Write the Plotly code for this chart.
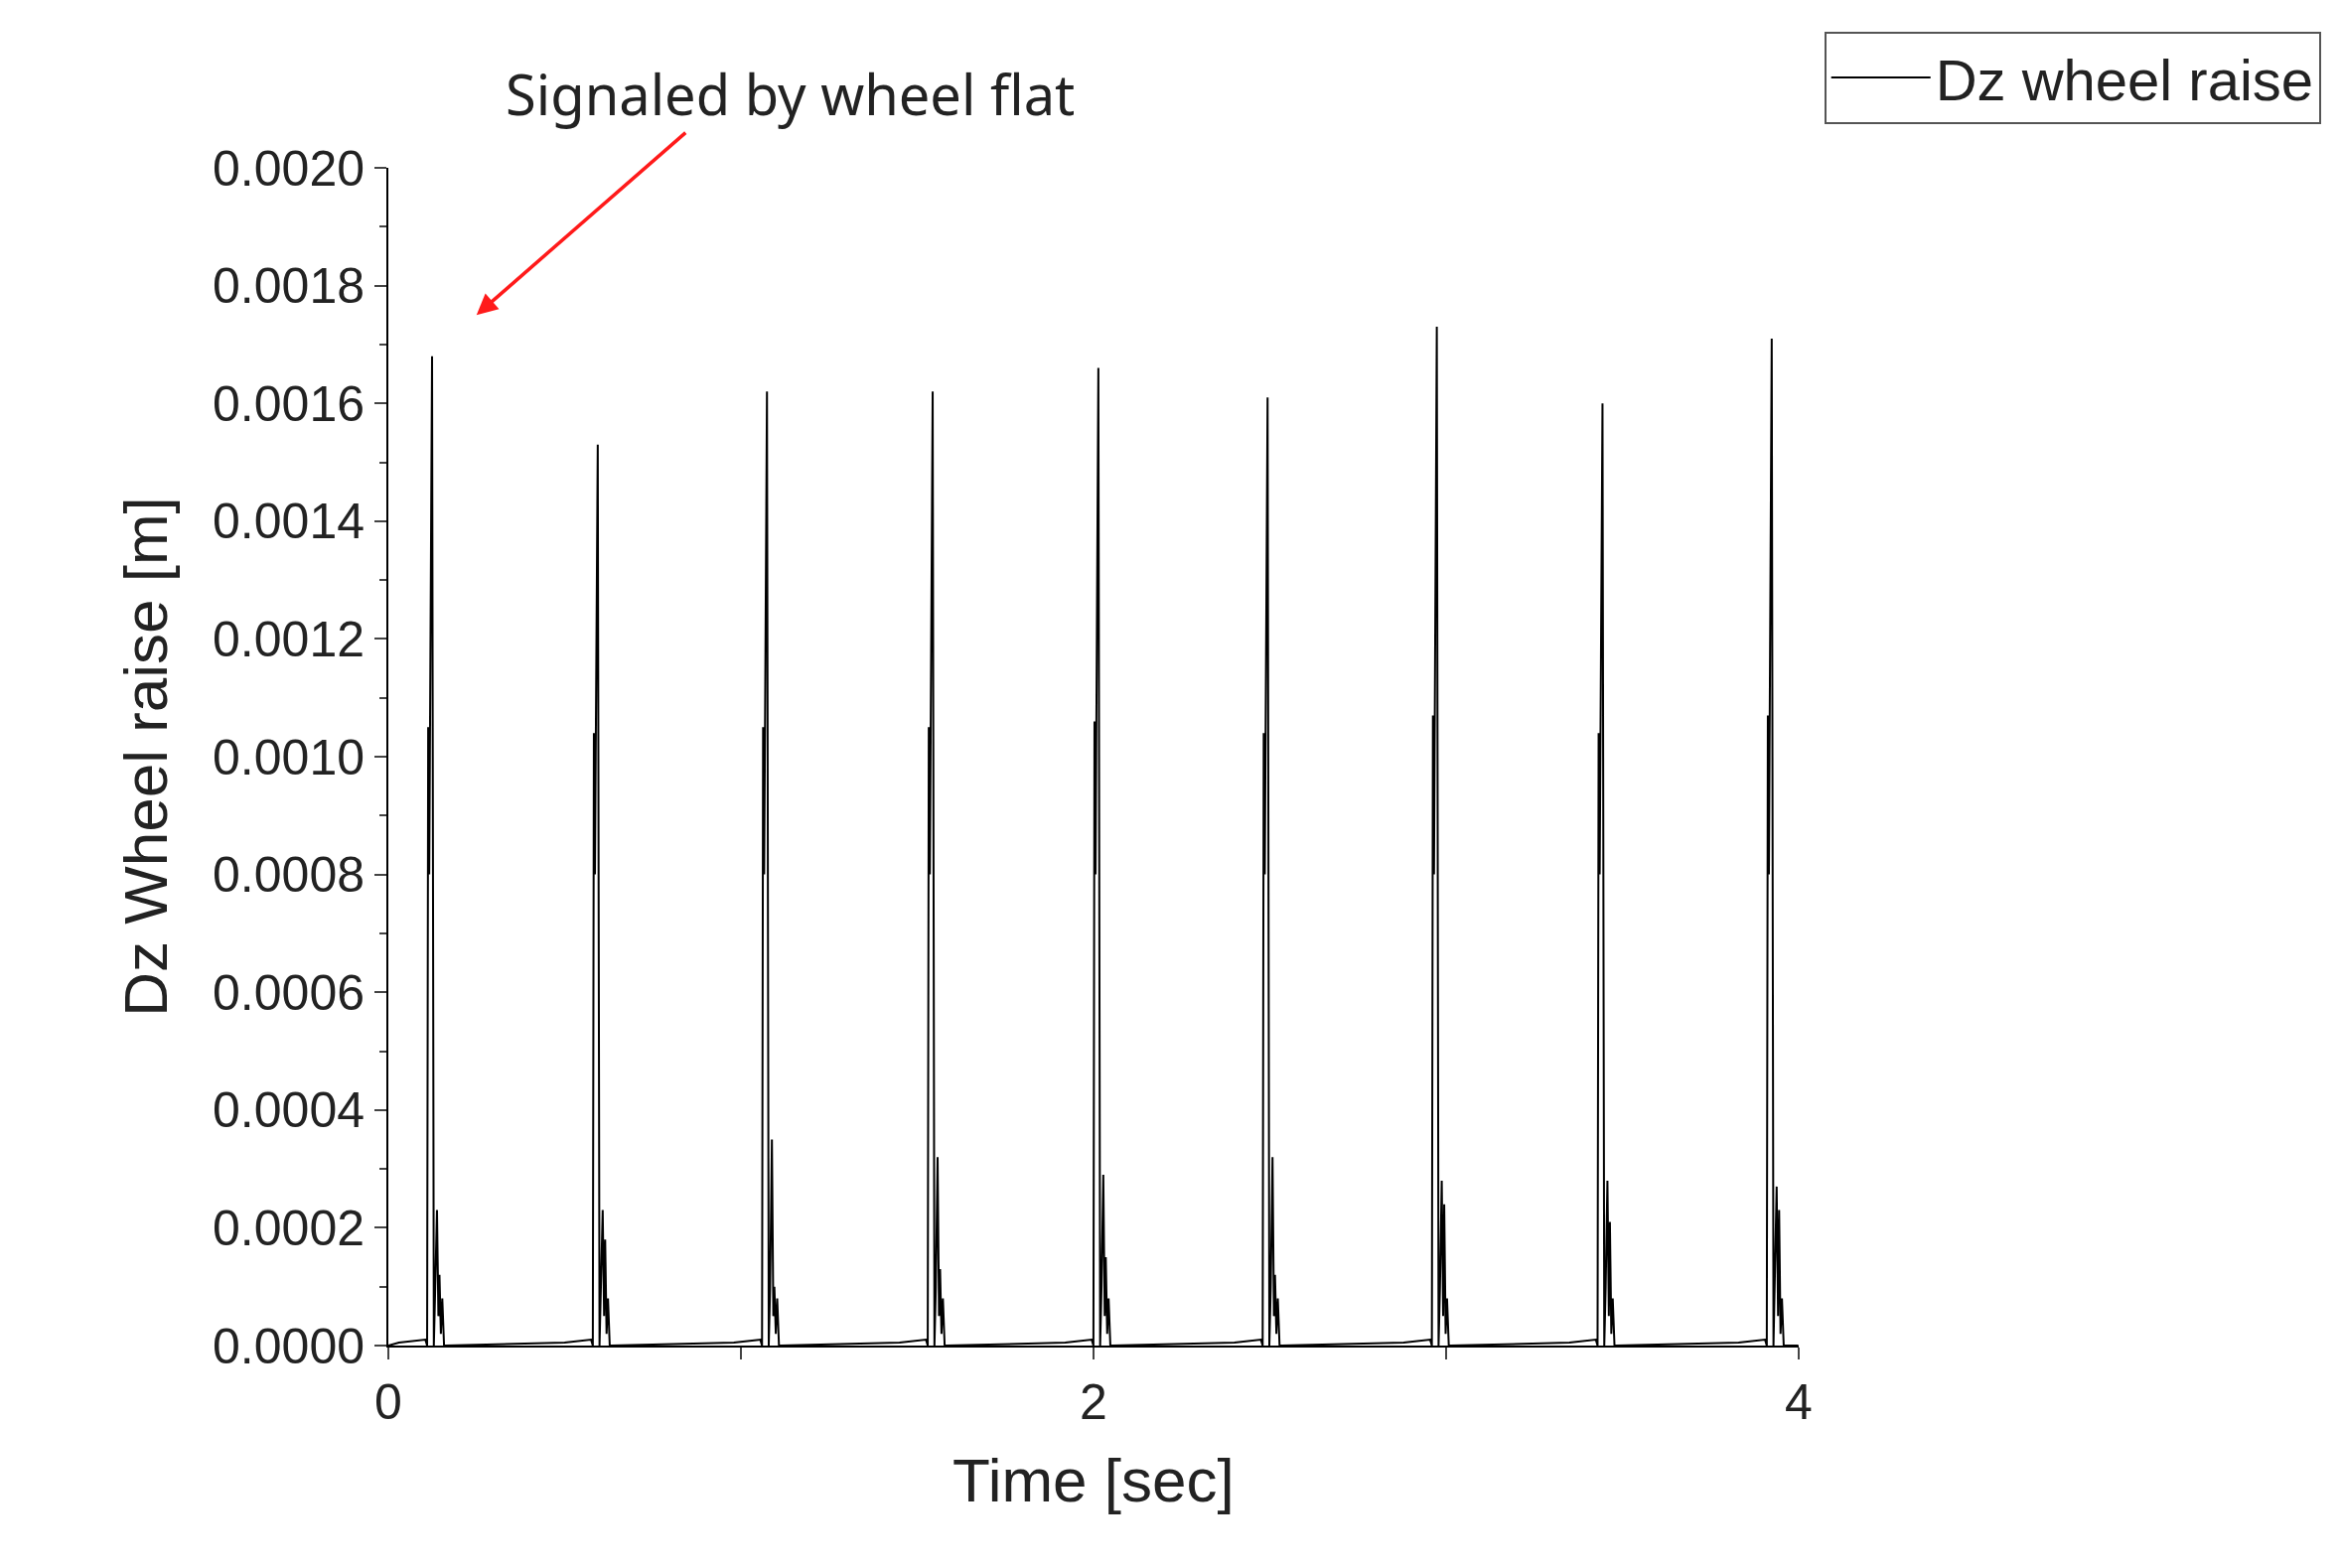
import plotly.graph_objects as go

# spike events
spike_times = [0.13, 0.60, 1.08, 1.55, 2.02, 2.50, 2.98, 3.45, 3.93]
peak_values = [0.00168, 0.00153, 0.00162, 0.00162, 0.00166, 0.00161, 0.00173, 0.00160, 0.00171]
shoulder_values = [0.00105, 0.00104, 0.00105, 0.00105, 0.00106, 0.00104, 0.00107, 0.00104, 0.00107]
second_values = [0.00023, 0.00023, 0.00035, 0.00032, 0.00029, 0.00032, 0.00028, 0.00028, 0.00027]
third_values = [0.00012, 0.00018, 0.00010, 0.00013, 0.00015, 0.00012, 0.00024, 0.00021, 0.00023]

xs, ys = [0.0], [0.0]
for t, p, s, a, b in zip(spike_times, peak_values, shoulder_values, second_values, third_values):
    xs += [t - 0.10, t - 0.025, t - 0.020, t - 0.017, t - 0.014, t - 0.006, t - 0.001, t + 0.003,
           t + 0.008, t + 0.012, t + 0.015, t + 0.019, t + 0.023, t + 0.028, t + 0.034]
    ys += [0.000005, 0.00001, 0.0, s, 0.0008, p, 0.0, 0.0001,
           a, 0.00005, b, 0.00002, 0.00008, 0.0, 0.0]
xs.append(4.0)
ys.append(0.0)

fig = go.Figure()
fig.add_trace(go.Scatter(x=xs, y=ys, mode="lines", name="Dz wheel raise",
                         line=dict(color="black", width=2)))

fig.add_annotation(x=0.25, y=0.00175, ax=212, ay=-185, xref="x", yref="y",
                   showarrow=True, arrowhead=2, arrowsize=1.2, arrowwidth=3.5,
                   arrowcolor="#ff1a1a", text="", standoff=0)
fig.add_annotation(x=0.285, y=1.063, xref="paper", yref="paper", showarrow=False,
                   text="Signaled by wheel flat", xanchor="center", yanchor="middle",
                   font=dict(family="Noto Sans", size=56, color="#222"))

fig.update_layout(
    width=2357, height=1579,
    paper_bgcolor="white", plot_bgcolor="white",
    margin=dict(l=383, r=349, t=161, b=232),
    font=dict(family="Liberation Sans, Arial", color="#222", size=50),
    showlegend=True,
    legend=dict(xref="container", yref="container", x=0.988, y=0.985,
                xanchor="right", yanchor="top", itemwidth=100,
                bordercolor="#555", borderwidth=2, bgcolor="white",
                font=dict(size=58)),
    xaxis=dict(range=[0, 4], tickvals=[0, 1, 2, 3, 4], ticktext=["0", "", "2", "", "4"],
               ticks="outside", ticklen=12, tickwidth=2, showline=True, linecolor="black",
               linewidth=2, showgrid=False, zeroline=False,
               title=dict(text="Time [sec]", font=dict(size=62), standoff=30)),
    yaxis=dict(range=[0, 0.002], dtick=0.0002, tickformat=".4f",
               ticks="outside", ticklen=12, tickwidth=2, showline=True, linecolor="black",
               linewidth=2, showgrid=False, zeroline=False,
               minor=dict(dtick=0.0001, ticks="outside", ticklen=7, tickwidth=2),
               title=dict(text="Dz Wheel raise [m]", font=dict(size=62), standoff=25)),
)

fig.write_html("out.html")
